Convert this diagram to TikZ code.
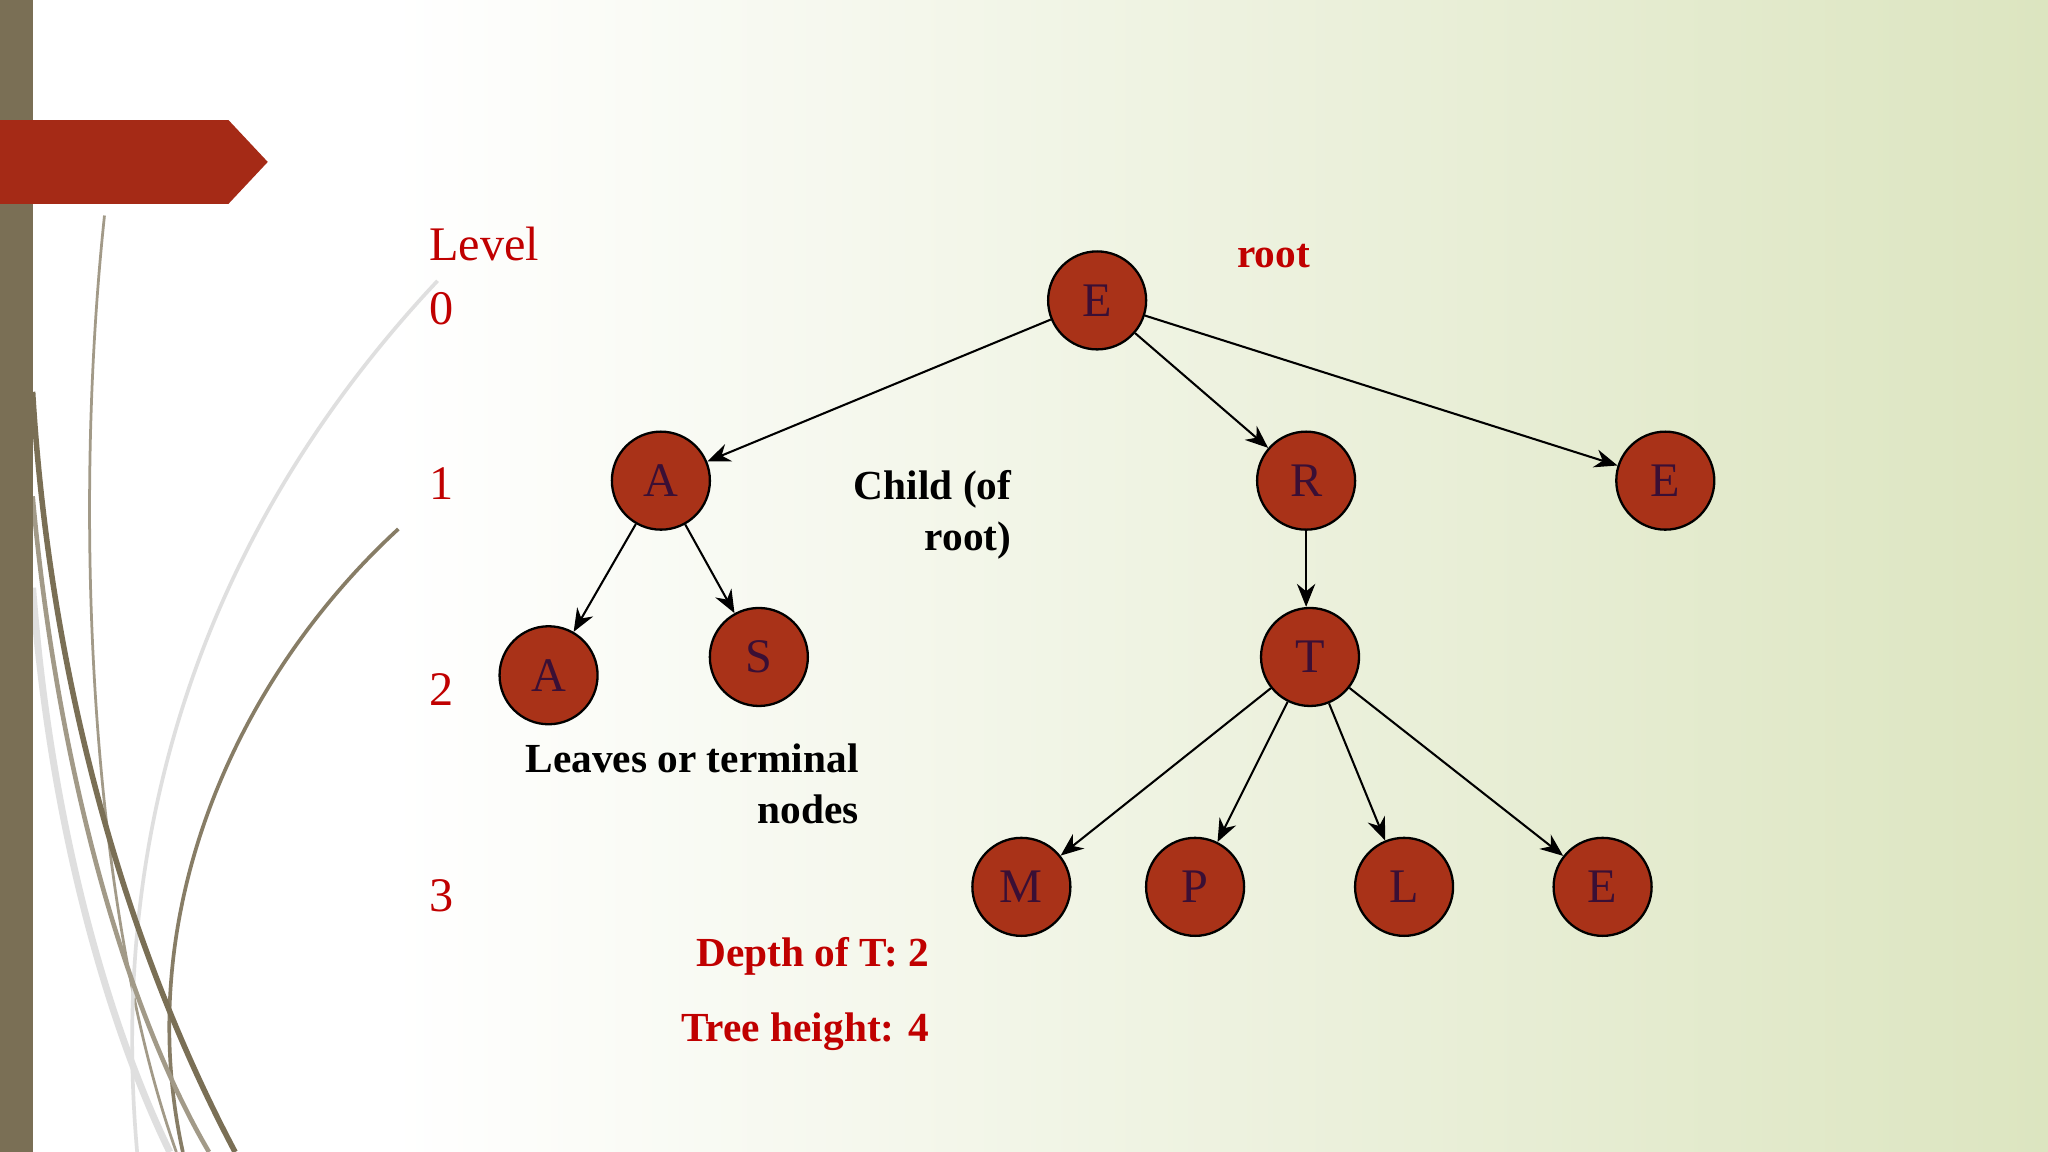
\documentclass[tikz,border=0pt]{standalone}
\usepackage{fontspec}
\setmainfont{Liberation Serif}
\usetikzlibrary{arrows.meta}
\definecolor{bgg}{HTML}{DCE5C0}
\definecolor{olive}{HTML}{7A6F55}
\definecolor{banner}{HTML}{A52A16}
\definecolor{nodefill}{HTML}{A93218}
\definecolor{letter}{HTML}{3A0F35}
\definecolor{lab}{HTML}{C00000}
\tikzset{
  tn/.style={circle,draw=black,line width=0.5pt,fill=nodefill,minimum size=0.75cm,inner sep=0pt,text=letter,font=\fontsize{10.5}{12}\selectfont},
  ar/.style={-{Stealth[length=5pt,width=4pt]},line width=0.45pt},
  lvl/.style={text=lab,font=\fontsize{10.5}{12}\selectfont,anchor=west,inner sep=0pt},
  bl/.style={font=\bfseries\fontsize{9}{11}\selectfont,inner sep=0pt,anchor=east},
}
\begin{document}
\begin{tikzpicture}[x=0.01cm,y=-0.01cm]
\useasboundingbox (0,0) rectangle (1568,882);
\fill[white] (0,0) rectangle (300,882);
\shade[left color=white,right color=bgg] (300,0) rectangle (1568,882);
% decorative curves
\draw[olive!70,line width=0.6pt] (80,165) .. controls (55,400) and (70,700) .. (135,882);
\draw[olive!90,line width=0.8pt] (305,405) .. controls (180,520) and (100,700) .. (140,882);
\draw[gray!25,line width=0.8pt] (335,215) .. controls (180,380) and (80,600) .. (105,882);
\draw[olive,line width=1.2pt] (25,300) .. controls (40,550) and (110,750) .. (180,882);
\draw[olive!70,line width=1pt] (25,380) .. controls (45,600) and (100,780) .. (160,882);
\draw[gray!25,line width=1.5pt] (25,450) .. controls (40,650) and (90,800) .. (130,882);
\fill[olive] (0,0) rectangle (25,882);
\fill[banner] (0,92) -- (175,92) -- (205,124) -- (175,156) -- (0,156) -- cycle;
% levels
\node[lvl] (lv) at (328,187) {Level};
\node[lvl] (l0) at (328,236) {0};
\node[lvl] (l1) at (328,370) {1};
\node[lvl] (l2) at (328,528) {2};
\node[lvl] (l3) at (328,686) {3};
% nodes
\node[tn] (E) at (840,230) {E};
\node[tn] (A) at (506,368) {A};
\node[tn] (R) at (1000,368) {R};
\node[tn] (E2) at (1275,368) {E};
\node[tn] (A2) at (420,517) {A};
\node[tn] (S) at (581,503) {S};
\node[tn] (T) at (1003,503) {T};
\node[tn] (M) at (782,679) {M};
\node[tn] (P) at (915,679) {P};
\node[tn] (L) at (1075,679) {L};
\node[tn] (E3) at (1227,679) {E};
\draw[ar] (E) -- (A);
\draw[ar] (E) -- (R);
\draw[ar] (E) -- (E2);
\draw[ar] (A) -- (A2);
\draw[ar] (A) -- (S);
\draw[ar] (R.south) -- (R.south |- T.north);
\draw[ar] (T) -- (M);
\draw[ar] (T) -- (P);
\draw[ar] (T) -- (L);
\draw[ar] (T) -- (E3);
% labels
\node[bl,text=lab,anchor=center] (root) at (975,196) {root};
\node[bl] (c1) at (775,375) {Child (of};
\node[bl] (c2) at (775,414) {root)};
\node[bl] (lf1) at (658,581) {Leaves or terminal};
\node[bl] (lf2) at (658,620) {nodes};
\node[bl,text=lab] (d) at (712,732) {Depth of T: 2};
\node[bl,text=lab] (h) at (712,790) {Tree height: 4};
\end{tikzpicture}
\end{document}
